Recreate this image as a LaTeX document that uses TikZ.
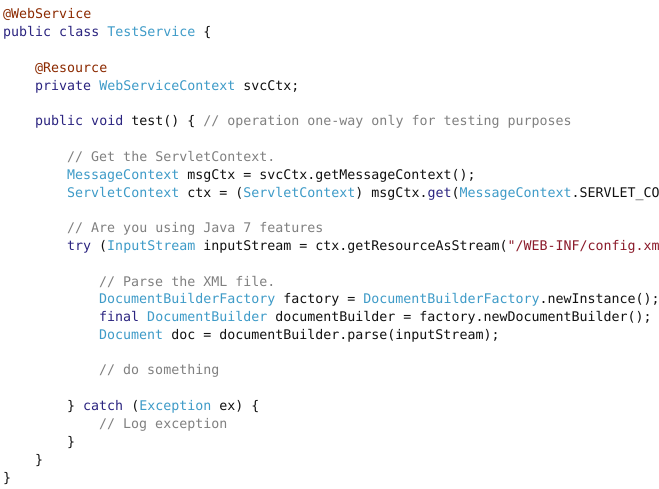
\documentclass[tikz,border=0pt]{standalone}
\usepackage{fontspec}
\newfontfamily\code{DejaVu Sans Mono}
\definecolor{kw}{HTML}{2B2480}
\definecolor{ty}{HTML}{3E9BC8}
\definecolor{an}{HTML}{8C2A00}
\definecolor{cm}{HTML}{808080}
\definecolor{st}{HTML}{8B1A2A}
\definecolor{bg}{HTML}{FFFFFF}
\definecolor{tx}{HTML}{111111}
\newcommand{\K}[1]{\textcolor{kw}{#1}}
\newcommand{\T}[1]{\textcolor{ty}{#1}}
\newcommand{\A}[1]{\textcolor{an}{#1}}
\newcommand{\C}[1]{\textcolor{cm}{#1}}
\newcommand{\St}[1]{\textcolor{st}{#1}}
\begin{document}
\begin{tikzpicture}[x=1pt,y=-1pt,
  ln/.style={anchor=base west,inner sep=0pt,text=tx,font=\code\fontsize{13.3}{14}\selectfont}]
\fill[bg] (0,0) rectangle (659,488);
\useasboundingbox (0,0) rectangle (659,488);
\clip (0,0) rectangle (659,488);
\node[ln] (l1) at (3,18) {\A{@WebService}};
\node[ln] (l2) at (3,36) {\K{public class} \T{TestService} \{};
\node[ln] (l3) at (35,72) {\A{@Resource}};
\node[ln] (l4) at (35,90) {\K{private} \T{WebServiceContext} svcCtx;};
\node[ln] (l5) at (35,125) {\K{public void} test() \{ \C{// operation one-way only for testing purposes}};
\node[ln] (l6) at (67,161) {\C{// Get the ServletContext.}};
\node[ln] (l7) at (67,179) {\T{MessageContext} msgCtx = svcCtx.getMessageContext();};
\node[ln] (l8) at (67,197) {\T{ServletContext} ctx = (\T{ServletContext}) msgCtx.\K{get}(\T{MessageContext}.SERVLET\_CONTEXT);};
\node[ln] (l9) at (67,232) {\C{// Are you using Java 7 features}};
\node[ln] (l10) at (67,250) {\K{try} (\T{InputStream} inputStream = ctx.getResourceAsStream(\St{"/WEB-INF/config.xml"}))};
\node[ln] (l11) at (99,286) {\C{// Parse the XML file.}};
\node[ln] (l12) at (99,303) {\T{DocumentBuilderFactory} factory = \T{DocumentBuilderFactory}.newInstance();};
\node[ln] (l13) at (99,321) {\K{final} \T{DocumentBuilder} documentBuilder = factory.newDocumentBuilder();};
\node[ln] (l14) at (99,339) {\T{Document} doc = documentBuilder.parse(inputStream);};
\node[ln] (l15) at (99,374) {\C{// do something}};
\node[ln] (l16) at (67,410) {\} \K{catch} (\T{Exception} ex) \{};
\node[ln] (l17) at (99,428) {\C{// Log exception}};
\node[ln] (l18) at (67,446) {\}};
\node[ln] (l19) at (35,464) {\}};
\node[ln] (l20) at (3,482) {\}};
\end{tikzpicture}
\end{document}
